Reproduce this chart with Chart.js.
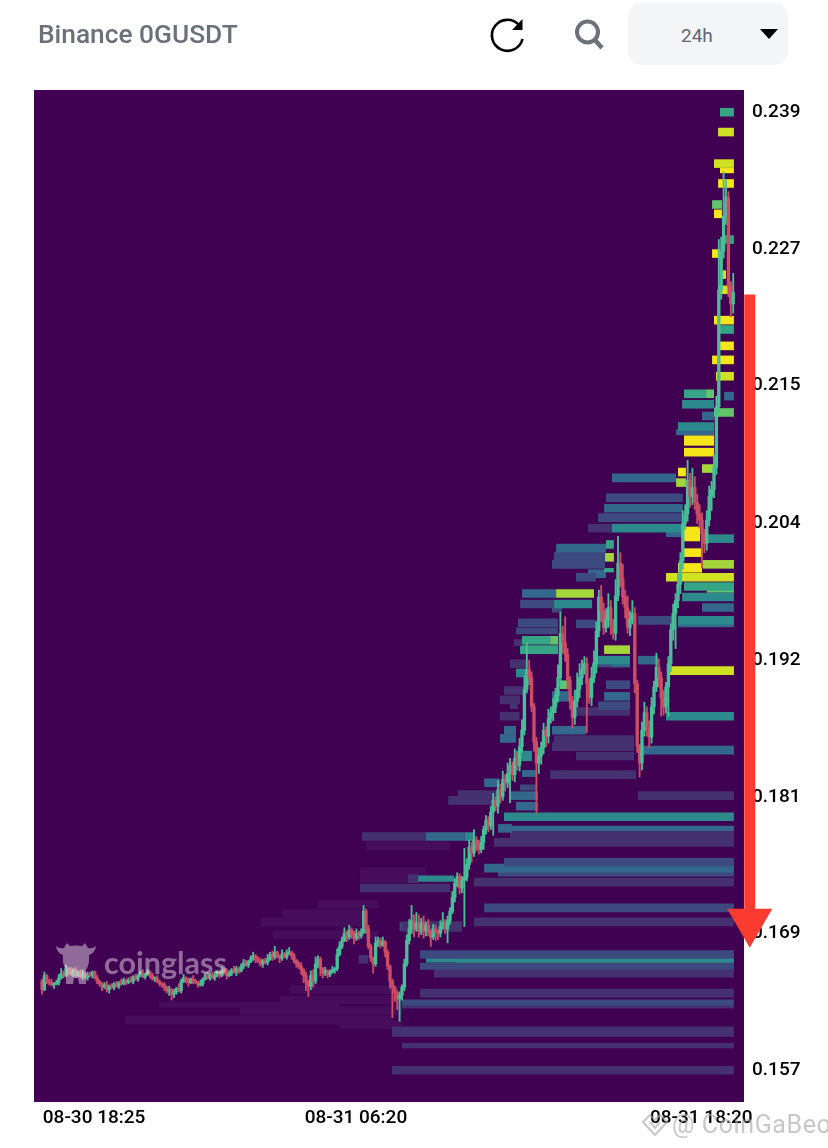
<!DOCTYPE html>
<html>
<head>
<meta charset="utf-8">
<title>Binance 0GUSDT</title>
<script src="https://cdn.jsdelivr.net/npm/chart.js@4/dist/chart.umd.min.js"></script>
<style>
  html, body { margin: 0; padding: 0; background: #fff; }
  #page { position: relative; width: 828px; height: 1148px; overflow: hidden; font-family: Roboto, sans-serif; }
  #heatmap { position: absolute; left: 0; top: 0; }
  .title { position: absolute; left: 38px; top: 19px; font-size: 26.3px; font-weight: 500; color: #6c7079; white-space: nowrap; }
  .range { position: absolute; left: 628px; top: 3px; width: 160px; height: 62px; background: #f3f5f7; border-radius: 14px; }
  .range span { position: absolute; left: 53px; top: 21px; font-size: 19px; color: #62666e; }
  .icon { position: absolute; }
  .brand { position: absolute; left: 104px; top: 944px; font-family: Lato, sans-serif; font-size: 30.5px; font-weight: 700; color: rgba(255,255,255,.42); white-space: nowrap; }
  .credit { position: absolute; left: 672px; top: 1110px; font-size: 25px; color: rgba(170,170,170,.65); letter-spacing: .6px; white-space: nowrap; }
</style>
</head>
<body>
<div id="page">
  <canvas id="heatmap" width="828" height="1148"></canvas>
  <div class="title">Binance 0GUSDT</div>
  <svg class="icon" style="left:488px;top:15px" width="40" height="40" viewBox="0 0 40 40">
    <path d="M31 10 A15.5 15.5 0 1 0 34.5 24" fill="none" stroke="#000" stroke-width="2.6"/>
    <path d="M34.5 4 L34.5 15 L24 15 Z" fill="#000"/>
  </svg>
  <svg class="icon" style="left:572px;top:17px" width="34" height="34" viewBox="0 0 34 34">
    <circle cx="15.5" cy="15" r="10.5" fill="none" stroke="#6c7079" stroke-width="4"/>
    <path d="M23 23 L30 31" stroke="#6c7079" stroke-width="4.5"/>
  </svg>
  <div class="range"><span>24h</span>
    <svg class="icon" style="left:132px;top:26px" width="18" height="10" viewBox="0 0 18 10"><path d="M0 0 H18 L9 10 Z" fill="#000"/></svg>
  </div>
  <svg class="icon" style="left:55px;top:940px" width="42" height="46" viewBox="0 0 42 46" fill="rgba(255,255,255,.42)">
    <path d="M1 6 Q5 9 9 8 L12 3 L15 6 Q21 5 27 6 L30 3 L33 8 Q37 9 41 6 Q40 13 34 15 Q35 24 31 30 L31 44 L24 44 L23 38 L19 38 L18 44 L11 44 L11 30 Q7 24 8 15 Q2 13 1 6 Z"/>
  </svg>
  <div class="brand">coinglass</div>
  <svg class="icon" style="left:640px;top:1108px" width="30" height="30" viewBox="0 0 30 30">
    <path d="M3 14 L10 7 L15 12 L20 7 L27 14 L15 27 Z M10 14 L15 20 L20 14" fill="none" stroke="rgba(170,170,170,.65)" stroke-width="2"/>
  </svg>
  <div class="credit">@ CoinGaBeo</div>
</div>
<script>
const xTickValues = [21.7, 130.8, 274.7]
const xTickLabels = ['08-30 18:25', '08-31 06:20', '08-31 18:20']
const yTickValues = [0.2389, 0.2272, 0.2155, 0.2037, 0.1920, 0.1803, 0.1686, 0.1569]
const yTickLabels = ['0.239', '0.227', '0.215', '0.204', '0.192', '0.181', '0.169', '0.157']

// 5 minute candles, x = candle number
const firstOpen = 0.1645
const closes = [
  .1638,.1650,.1645,.1644,.1642,.1643,.1644,.1648,.1652,.1650,.1656,.1654,.1651,.1655,.1650,.1653,.1649,.1652,.1648,.1651,.1650,.1653,.1648,.1645,.1643,
  .1640,.1642,.1638,.1641,.1640,.1643,.1641,.1644,.1643,.1646,.1644,.1646,.1645,.1649,.1647,.1650,.1652,.1649,.1651,.1653,.1650,.1647,.1648,.1645,.1643,
  .1642,.1640,.1637,.1638,.1634,.1636,.1639,.1637,.1645,.1648,.1646,.1644,.1647,.1645,.1644,.1642,.1643,.1647,.1650,.1648,.1651,.1648,.1650,.1653,.1650,
  .1655,.1653,.1650,.1652,.1655,.1653,.1656,.1654,.1658,.1661,.1659,.1662,.1665,.1667,.1664,.1662,.1660,.1663,.1661,.1664,.1668,.1666,.1670,.1666,.1665,
  .1668,.1666,.1669,.1670,.1667,.1663,.1660,.1658,.1655,.1650,.1644,.1641,.1650,.1645,.1660,.1664,.1656,.1652,.1654,.1651,.1653,.1655,.1656,.1668,.1675,
  .1680,.1686,.1683,.1689,.1685,.1682,.1686,.1684,.1687,.1705,.1690,.1675,.1665,.1660,.1678,.1680,.1676,.1679,.1670,.1658,.1645,.1640,.1635,.1630,.1633,
  .1640,.1660,.1680,.1690,.1697,.1690,.1695,.1688,.1695,.1688,.1693,.1687,.1683,.1690,.1687,.1686,.1692,.1695,.1690,.1697,.1705,.1717,.1729,.1735,.1725,
  .1732,.1734,.1745,.1760,.1755,.1766,.1762,.1758,.1764,.1775,.1783,.1778,.1790,.1800,.1795,.1809,.1803,.1818,.1815,.1823,.1830,.1822,.1836,.1830,.1846,
  .1860,.1895,.1912,.1905,.1880,.1850,.1832,.1838,.1845,.1860,.1855,.1870,.1875,.1880,.1890,.1905,.1943,.1935,.1925,.1903,.1885,.1871,.1885,.1895,.1905,
  .1912,.1917,.1900,.1888,.1905,.1917,.1945,.1974,.1962,.1948,.1955,.1965,.1950,.1943,.1975,.2003,.1990,.1974,.1965,.1948,.1955,.1960,.1900,.1846,.1832,
  .1860,.1875,.1862,.1854,.1880,.1897,.1914,.1905,.1888,.1880,.1897,.1917,.1946,.1960,.1971,.1985,.2005,.2037,.2045,.2074,.2060,.2068,.2055,.2045,.2040,
  .2028,.2020,.2040,.2060,.2066,.2085,.2137,.2237,.2270,.2300,.2316,.2240,.2225,.2235
]
// wick length beyond the body, in 0.0001 price steps
const wickUp = [
  2,3,1,2,3,1,2,3,4,2,3,1,3,1,2,1,2,3,1,2,2,1,1,2,1,
  1,2,3,1,2,1,2,1,3,2,1,2,3,1,2,1,2,3,1,2,1,2,1,2,1,
  1,2,1,3,1,2,1,4,2,3,1,2,1,3,2,1,3,1,2,3,1,2,3,1,2,
  2,1,3,2,1,3,2,1,2,3,2,1,2,3,1,2,3,1,2,4,2,3,5,1,2,
  4,2,3,4,1,2,1,2,3,1,3,2,4,5,6,3,2,1,3,1,2,3,1,5,4,
  3,5,2,4,2,3,4,2,3,5,2,3,2,1,5,3,2,4,1,2,1,2,1,2,3,
  2,4,5,8,13,5,9,7,4,6,3,5,2,4,3,2,5,9,3,4,3,5,4,3,2,
  3,25,5,6,4,9,3,4,5,3,4,3,5,6,3,8,5,7,4,9,6,3,8,5,7,
  9,11,23,8,5,3,4,7,5,6,3,8,5,7,6,11,18,6,22,5,3,4,9,14,12,
  8,6,5,4,9,11,8,6,10,7,9,12,6,5,14,23,9,12,6,10,7,11,5,3,2,
  7,9,5,6,8,5,12,7,5,6,4,6,5,8,6,9,7,11,8,17,6,16,9,7,8,
  6,4,8,9,7,11,9,43,12,38,15,5,4,16
]
const wickDown = [
  4,1,2,2,1,3,1,2,1,2,1,3,1,2,2,1,1,2,1,2,1,2,1,2,2,
  3,1,2,3,1,2,1,2,1,1,2,1,1,2,1,2,1,1,2,1,2,1,2,1,2,
  2,3,2,4,5,3,2,1,2,1,2,3,1,2,1,2,1,2,1,1,2,1,2,1,2,
  1,2,3,1,2,1,3,2,1,2,1,2,1,2,3,1,2,3,1,2,1,3,2,1,4,
  2,1,2,1,3,2,3,2,4,6,7,9,3,5,2,3,6,4,2,3,2,1,3,2,1,
  2,1,4,2,3,5,2,3,2,1,4,2,3,8,2,3,2,1,4,3,6,26,7,9,19,
  4,3,2,3,4,7,2,5,3,6,4,3,8,2,7,5,3,2,4,12,3,2,4,3,5,
  4,40,3,4,8,3,5,4,3,6,4,5,3,20,4,6,5,3,7,4,25,5,6,4,5,
  5,4,3,6,4,8,43,9,7,5,9,6,4,7,5,6,7,9,6,8,7,9,6,5,7,
  6,4,42,5,7,4,8,5,9,6,4,7,8,5,6,4,7,6,9,5,7,4,8,5,12,
  6,5,7,9,5,6,4,8,16,7,5,25,7,9,30,6,8,7,5,6,9,7,6,8,7,
  29,8,6,5,12,7,6,5,8,6,7,9,11,8
]

// liquidation bands: from candle, to candle, price, heat level 0-9, price buckets
const bandStarts = [
  282.5,281.7,280,282.5,281.7,279.2,280,284.2,279.2,282.5,281.7,280,282.5,281.7,279.2,280.8,
  267.5,276.7,284.2,266.7,280,275,265,264.2,267.5,267.5,265,275,264.2,237.5,235,234.2,231.7,227.5,237.5,260,267.5,277.5,
  214.2,235,213.3,212.5,234.6,267,265,275.4,234.2,260,222.5,227.5,267.5,277,266.7,275,200,214.2,199.2,213.3,212.5,
  265,265,248.3,222.5,198.3,197.5,200,211.7,196.7,199.2,234.2,231.7,229.2,237.5,248.3,260.8,195,197.5,
  235,234.2,215.8,192.5,190.8,195,190.8,212.5,231.7,222.5,260,192.5,190.8,212.5,213.3,212.5,249.2,222.5,197.5,
  211.7,200,199.2,248.3,195,184.2,169.2,173.3,197.5,192.5,190,195.8,195,188.3,133.3,160,176,135,
  192.5,184.2,190,180,132.5,152.5,156.7,132.5,132.5,184.2,180,150,157.5,160,172.5,157.5,163.3,
  157.5,150,150,145.8,150,145.8,34.6,82.5,103.3,99.2,124,49,91,100,96,115,132,149
]
const bandEnds = [
  288.3,288.3,288.3,288.3,288.3,283.3,283.3,288.3,282.5,285,286.7,288.3,288.3,288.3,288.3,288.3,
  276.7,280,288.3,280,288.3,280,280,280,280,280,268.3,280,268.3,264.2,267,267,267,237.5,267,267,274.2,288.3,
  235,238.3,234.6,234.6,238.3,275,275,288.3,238.3,288.3,230.8,235,288.3,288.3,288.3,288.3,214.2,230,213.3,229.2,216.7,
  288.3,288.3,262.5,230.8,215,215,211.7,215,200,215,245,245,237.5,245,256.7,288.3,201.7,201.7,
  245,245,220,200.8,199.2,198.3,199,220,245,245,288.3,197.5,197.5,226.7,246.7,246.7,288.3,246.7,204.2,
  247.5,205.8,206.3,288.3,206.7,190.8,188.8,190.8,206.7,288.3,195.8,288.3,288.3,288.3,160,176,180.4,170,
  288.3,288.3,288.3,288.3,152.5,156.7,171.7,170,160,288.3,288.3,175,288.3,288.3,288.3,288.3,288.3,
  288.3,288.3,288.3,288.3,288.3,288.3,145.8,150,150,150,150,124,133,133,140,140,136,156
]
const bandPrices = [
  .2389,.2372,.2345,.2339,.2328,.2310,.2302,.2280,.2268,.2250,.2237,.2211,.2203,.2189,.2177,.2163,
  .2148,.2148,.2146,.2139,.2132,.2129,.2120,.2115,.2108,.2098,.2081,.2084,.2072,.2076,.2059,.2050,.2042,.2033,.2033,.2029,.2028,.2024,
  .2016,.2019,.2009,.2002,.2008,.2012,.1999,.2002,.1997,.1991,.1991,.1994,.1983,.1980,.1974,.1965,.1977,.1977,.1968,.1968,.1963,
  .1954,.1950,.1954,.1951,.1952,.1945,.1937,.1937,.1935,.1929,.1929,.1920,.1916,.1916,.1920,.1911,.1917,.1909,
  .1899,.1889,.1899,.1894,.1886,.1881,.1872,.1889,.1881,.1876,.1872,.1860,.1853,.1860,.1852,.1846,.1843,.1838,.1838,
  .1822,.1823,.1811,.1804,.1804,.1815,.1800,.1805,.1795,.1786,.1776,.1776,.1771,.1764,.1769,.1769,.1769,.1761,
  .1747,.1742,.1737,.1730,.1733,.1733,.1733,.1725,.1739,.1708,.1696,.1692,.1668,.1663,.1663,.1658,.1652,
  .1635,.1627,.1624,.1602,.1590,.1569,.1612,.1620,.1638,.1629,.1608,.1625,.1696,.1703,.1685,.1711,.1664,.1692
]
const bandLevels = [
  5,8,8,9,9,6,9,5,9,8,8,9,5,9,9,8,
  5,6,3,4,6,3,4,3,9,9,9,7,7,3,2,3,2,1,4,3,9,4,
  3,5,2,2,7,9,9,7,5,8,2,3,5,6,4,3,3,7,2,4,2,
  4,3,2,2,2,2,5,6,1,5,7,4,2,3,3,8,1,4,
  2,3,6,1,1,1,1,3,2,1,4,3,3,3,1,1,3,1,4,
  1,3,2,1,3,3,1,1,3,4,3,3,1,1,1,3,4,0,
  2,3,2,1,0,1,4,1,0,2,1,1,2,4,5,2,1,
  1,2,1,1,1,1,0,0,0,0,0,0,0,0,0,0,1,2
]
const bandBuckets = [
  1,1,1,.6,1,1,1,1,1,1,1,1,1,1,1,1,
  1,1,1,1,1,1,1,.7,1.2,1,1,1,1,1,1,1,1,1,1,1,1.7,1,
  1,1,1,1,1,1,1.1,1,.5,1,1,1,1,.6,1,1,1,1,1,1,.6,
  1,.5,1,1,1,.8,1,1,.8,1,1,1,.6,.6,1,1,1,1,
  1,1,1,1,1,.8,1,1.2,1,1,1,1,1,1,1,1,1,1,1.2,
  1,.8,.7,1,1,1,1,1,1,1,1,.6,1.1,1,1,1,1,1,
  1,1,.6,1,1,1,.7,1,1,1,1,1.2,1,.5,.5,.8,1,
  1,.7,.6,1.2,.6,1,1,1,1,1,1,.7,1,1,1,1,1,1
]
// the hand drawn arrow: candle position, top price, shaft end price, head centre price
const arrowX = 294.9
const arrowFrom = 0.2233
const arrowTo = 0.1702
const arrowHead = 0.1696

const heatColors = ['#450d5b', '#45316f', '#3d4a80', '#33688c', '#2c8a8c', '#35a586', '#62c46b', '#a4d63c', '#cfe120', '#f6e619']
const GREEN = '#48c097'
const RED = '#cc4d66'
const BUCKET_PX = 8.6

const opens = closes.map((c, i) => i === 0 ? firstOpen : closes[i - 1])
const candleColor = closes.map((c, i) => c >= opens[i] ? GREEN : RED)

const bandSets = bandStarts.map((s, i) => ({
  type: 'line',
  data: [{ x: s, y: bandPrices[i] }, { x: bandEnds[i], y: bandPrices[i] }],
  borderColor: heatColors[bandLevels[i]],
  borderWidth: BUCKET_PX * bandBuckets[i],
  borderCapStyle: 'butt',
  pointRadius: 0,
  order: 3
}))

const wickSet = {
  type: 'bar',
  grouped: false,
  barThickness: 1.2,
  order: 2,
  backgroundColor: candleColor,
  data: closes.map((c, i) => ({
    x: i,
    y: [Math.min(c, opens[i]) - wickDown[i] / 10000, Math.max(c, opens[i]) + wickUp[i] / 10000]
  }))
}
const bodySet = {
  type: 'bar',
  grouped: false,
  barThickness: 2.7,
  order: 1,
  backgroundColor: candleColor,
  data: closes.map((c, i) => ({ x: i, y: [opens[i], c] }))
}
const arrowShaft = {
  type: 'line',
  data: [{ x: arrowX, y: arrowFrom }, { x: arrowX, y: arrowTo }],
  borderColor: '#fb3a30',
  borderWidth: 11,
  borderCapStyle: 'butt',
  pointRadius: 0,
  clip: false,
  order: 0
}
const arrowTip = {
  type: 'line',
  data: [{ x: arrowX, y: arrowHead }],
  pointStyle: 'triangle',
  rotation: 180,
  pointRadius: 26,
  pointBackgroundColor: '#fb3a30',
  pointBorderWidth: 0,
  clip: false,
  order: 0
}

const plotBackground = {
  id: 'plotBackground',
  beforeDraw(chart) {
    const { ctx, chartArea: a } = chart
    ctx.fillStyle = '#410152'
    ctx.fillRect(a.left, a.top, a.right - a.left, a.bottom - a.top)
  }
}

new Chart(document.getElementById('heatmap').getContext('2d'), {
  type: 'bar',
  data: { datasets: [...bandSets, wickSet, bodySet, arrowShaft, arrowTip] },
  plugins: [plotBackground],
  options: {
    responsive: false,
    animation: false,
    layout: { padding: { left: 34, top: 90, right: 0, bottom: 0 } },
    plugins: { legend: { display: false }, tooltip: { enabled: false } },
    scales: {
      x: {
        type: 'linear',
        offset: false,
        min: -3.33,
        max: 292.5,
        grid: { display: false, drawTicks: false },
        border: { display: false },
        afterBuildTicks: s => { s.ticks = xTickValues.map(v => ({ value: v })) },
        afterFit: s => { s.height = 46 },
        ticks: {
          autoSkip: false,
          maxRotation: 0,
          padding: 5,
          color: '#000',
          font: { family: 'Roboto', size: 19, weight: '500' },
          callback: v => xTickLabels[xTickValues.indexOf(v)]
        }
      },
      y: {
        position: 'right',
        min: 0.15418,
        max: 0.2408,
        grid: { display: false, drawTicks: false },
        border: { display: false },
        afterBuildTicks: s => { s.ticks = yTickValues.map(v => ({ value: v })) },
        afterFit: s => { s.width = 84 },
        ticks: {
          autoSkip: false,
          padding: 8,
          color: '#000',
          font: { family: 'Roboto', size: 19, weight: '500' },
          callback: v => yTickLabels[yTickValues.indexOf(v)]
        }
      }
    }
  }
})
</script>
</body>
</html>
